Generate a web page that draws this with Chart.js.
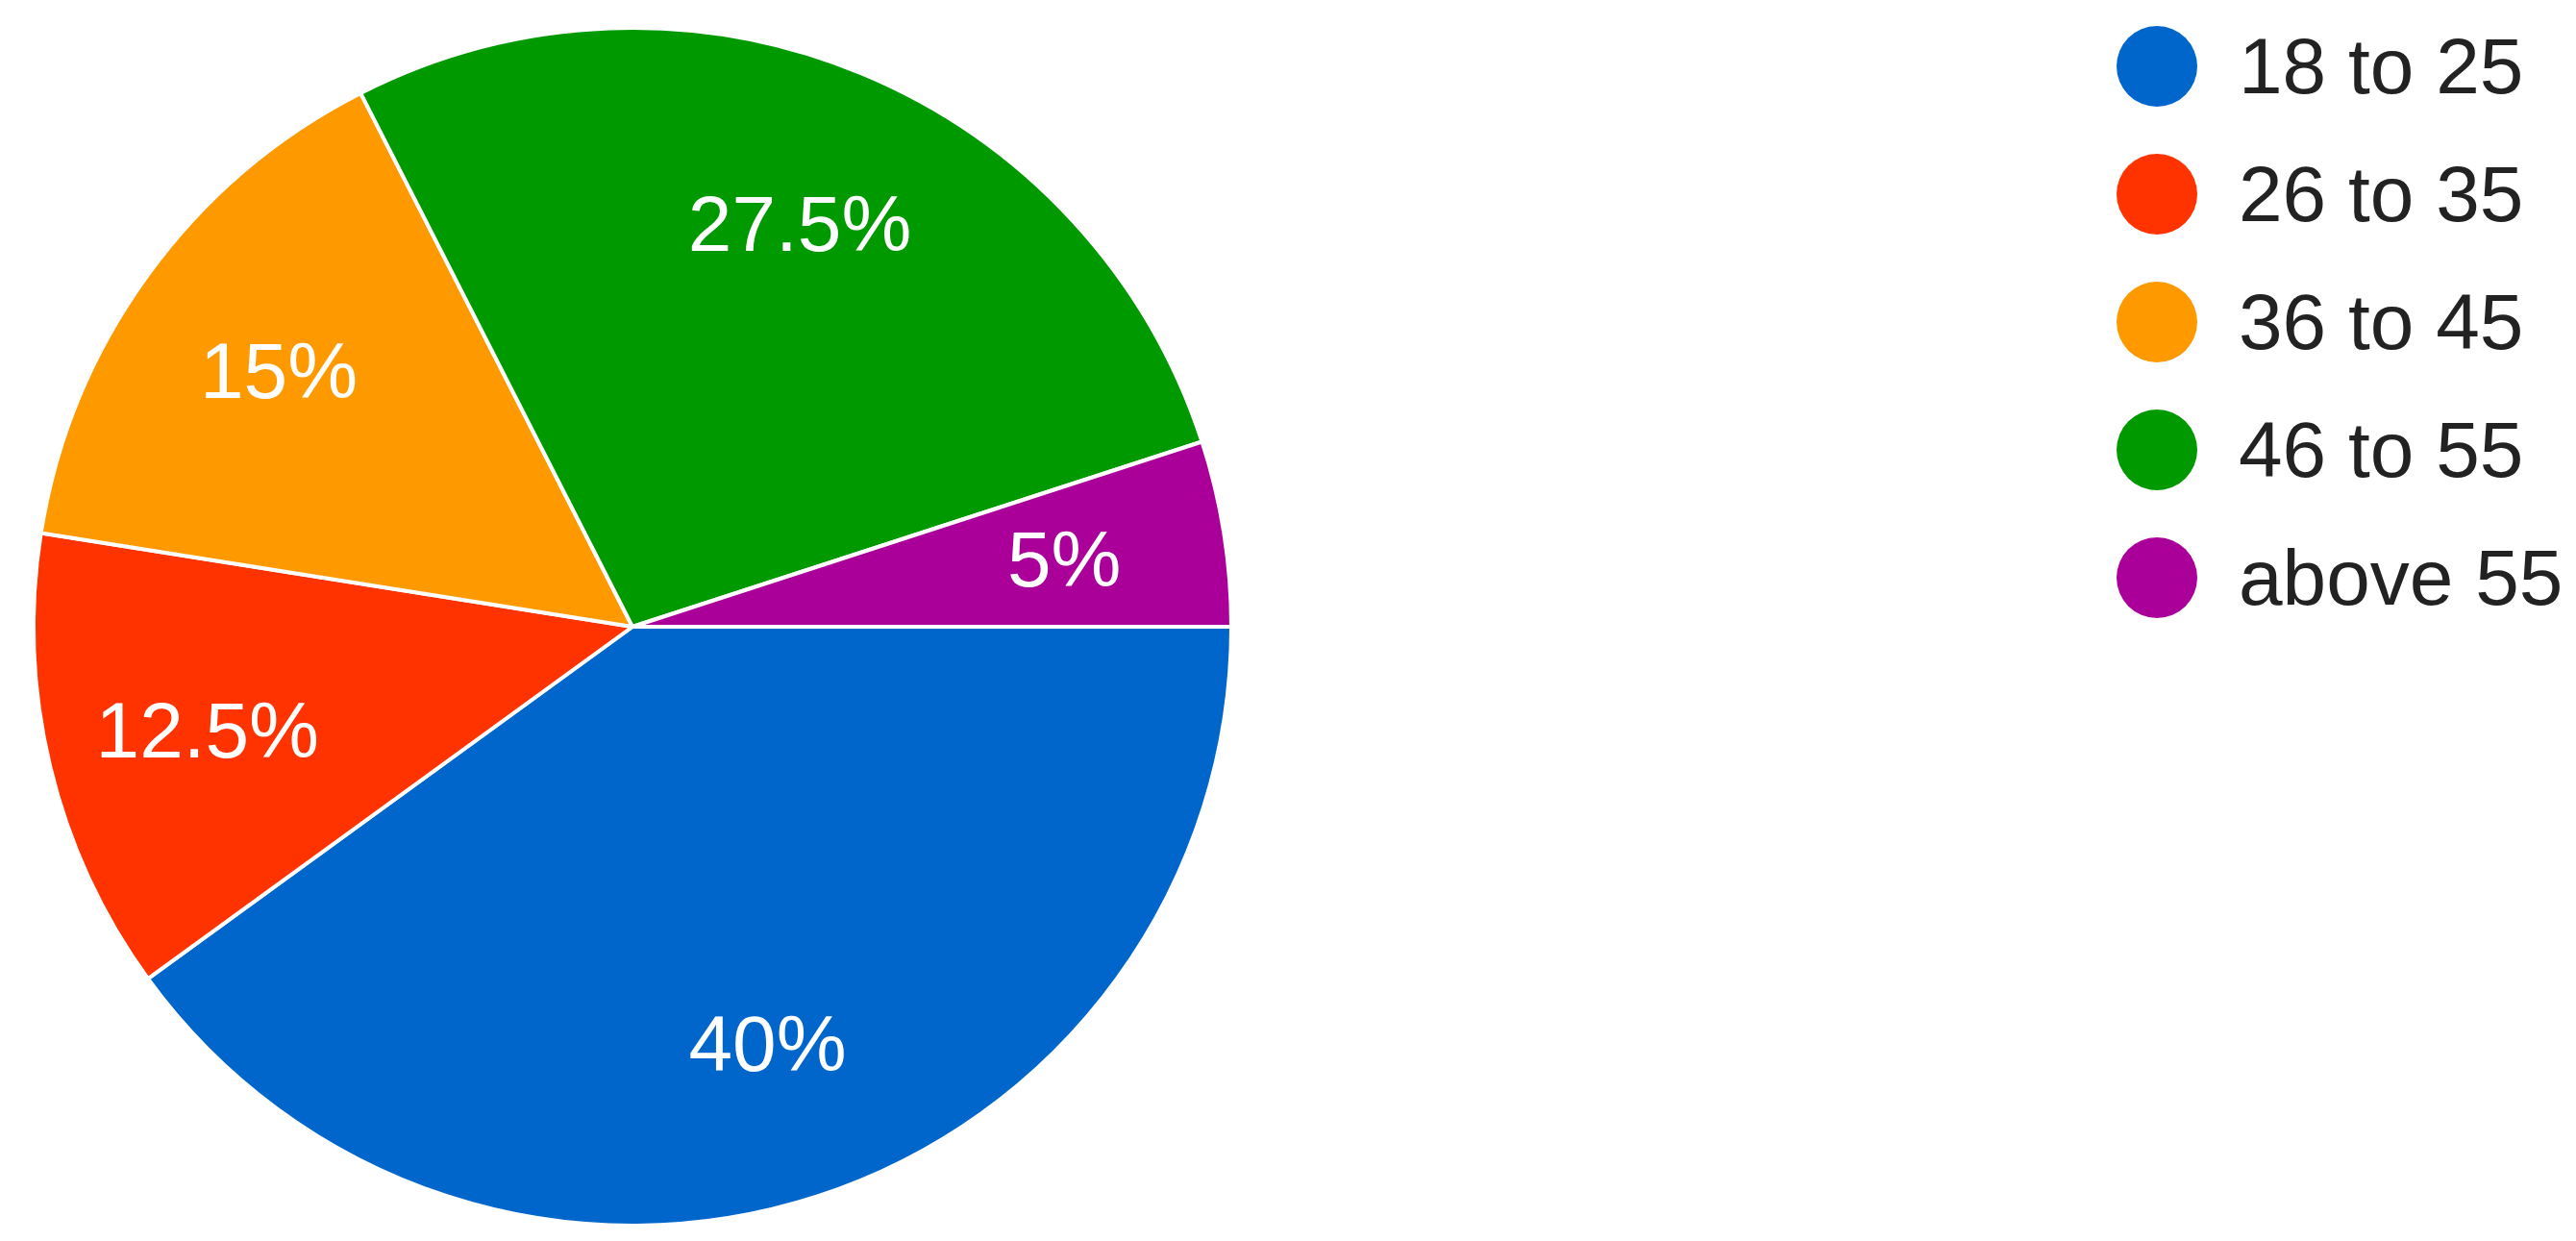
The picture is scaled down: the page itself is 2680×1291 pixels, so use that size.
<!DOCTYPE html>
<html>
<head>
<meta charset="utf-8">
<script src="https://cdn.jsdelivr.net/npm/chart.js@4/dist/chart.umd.min.js"></script>
<style>
  html, body { margin: 0; padding: 0; background: #fff; }
  #page { position: relative; width: 2680px; height: 1291px; overflow: hidden; }
  #pie-wrap { position: absolute; left: 0; top: 0; width: 1316px; height: 1291px; }
  #legend { position: absolute; left: 2202px; top: 2px; }
  .legend-row { display: flex; align-items: center; height: 133px; }
  .legend-dot { width: 84px; height: 84px; border-radius: 50%; flex: none; }
  .legend-text {
    margin-left: 43px; font-family: "Liberation Sans", Arial, sans-serif;
    font-size: 82px; line-height: 1; color: #222; white-space: nowrap;
  }
</style>
</head>
<body>
<div id="page">
  <div id="pie-wrap"><canvas id="pie"></canvas></div>
  <div id="legend"></div>
</div>
<script>
// Age groups and share of respondents (%)
const ageGroups = ['18 to 25', '26 to 35', '36 to 45', '46 to 55', 'above 55'];
const shares    = [40, 12.5, 15, 27.5, 5];
const colors    = ['#0066cc', '#ff3300', '#ff9900', '#009900', '#aa0099'];

// Draws the percentage text inside each slice
const sliceLabels = {
  id: 'sliceLabels',
  afterDatasetsDraw(chart) {
    const { ctx } = chart;
    const meta = chart.getDatasetMeta(0);
    const size = 82;
    ctx.save();
    ctx.fillStyle = '#fff';
    ctx.font = `${size}px "Liberation Sans", Arial, sans-serif`;
    ctx.textAlign = 'center';
    ctx.textBaseline = 'alphabetic';
    meta.data.forEach((arc, i) => {
      const { x, y, startAngle, endAngle, outerRadius } = arc.getProps(['x', 'y', 'startAngle', 'endAngle', 'outerRadius'], true);
      const mid = (startAngle + endAngle) / 2;
      const r = outerRadius * 0.73;
      const lx = x + Math.cos(mid) * r;
      const ly = y + Math.sin(mid) * r;
      ctx.fillText(`${shares[i]}%`, lx, ly + size * 0.358);
    });
    ctx.restore();
  }
};

new Chart(document.getElementById('pie'), {
  type: 'pie',
  data: {
    labels: ageGroups,
    datasets: [{
      data: shares,
      backgroundColor: colors,
      borderColor: '#ffffff',
      borderWidth: 4,
    }]
  },
  options: {
    responsive: true,
    maintainAspectRatio: false,
    animation: false,
    rotation: 90,
    layout: { padding: { top: 27, bottom: 14, left: 33, right: 33 } },
    plugins: {
      legend: { display: false },
      tooltip: { enabled: false },
    }
  },
  plugins: [sliceLabels]
});

// Legend on the right, built from the same arrays
document.getElementById('legend').innerHTML = ageGroups.map((g, i) => `
  <div class="legend-row">
    <div class="legend-dot" style="background:${colors[i]};"></div>
    <span class="legend-text">${g}</span>
  </div>
`).join('');
</script>
</body>
</html>
